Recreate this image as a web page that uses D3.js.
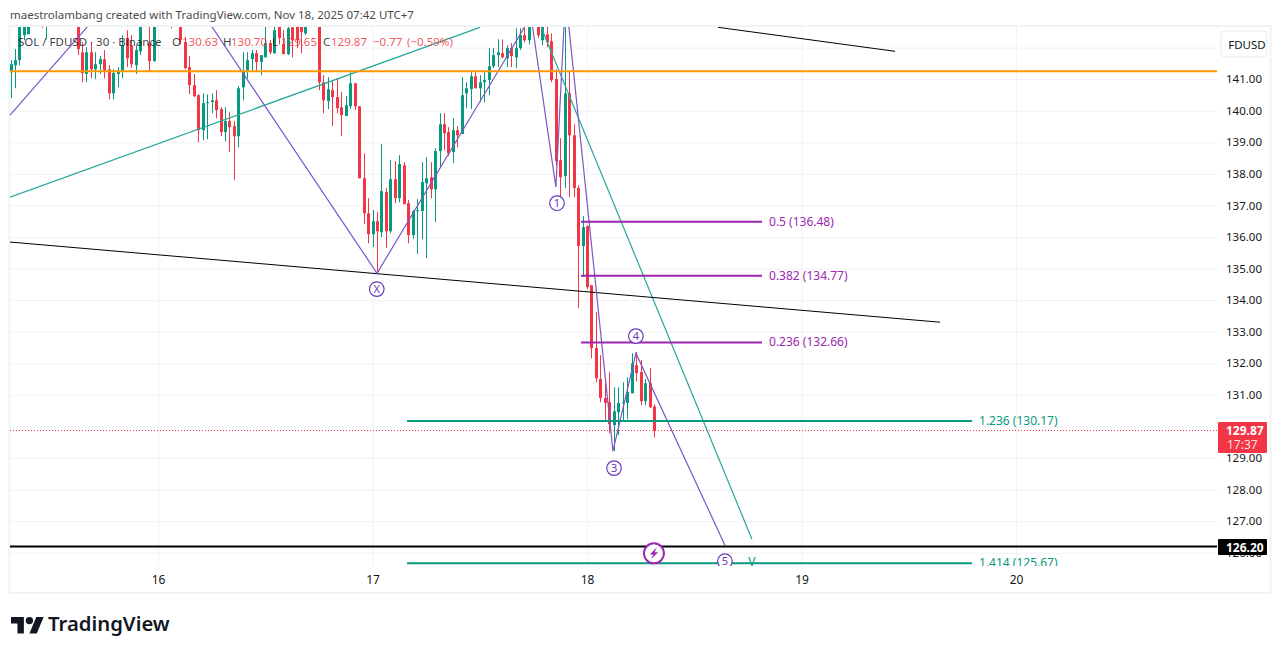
<!doctype html>
<html>
    <head>
        <meta charset="utf-8">
        <title>SOL / FDUSD</title>
        <script src="https://d3js.org/d3.v7.min.js"></script>
        <style>
            html, body { margin: 0; padding: 0; background: #fff; }
            svg { display: block; }
            text { font-family: "Noto Sans", sans-serif; }
        </style>
    </head>
    <body>
        <div id="chart"></div>
        <script>
            // 30 minute bars, first bar is 33 bars before day 16
            const opens = [141.22,141.44,141.60,142.39,142.42,143.2,143.3,143.2,142.95,143.2,143.3,143.5,143.3,143.4,143.1,143.0,141.85,141.16,141.85,141.31,141.47,141.63,141.31,140.55,141.16,141.25,142.30,142.07,141.44,141.88,143.0,142.14,141.57,143.0,143.2,143.4,142.95,143.2,143.0,142.17,141.38,140.81,140.49,139.38,140.24,140.27,140.33,140.05,139.32,139.67,139.51,139.19,140.74,141.28,141.63,141.82,141.54,141.69,142.14,141.82,142.7,142.11,141.79,142.64,142.8,142.8,142.45,142.9,143.0,142.9,140.90,140.30,140.65,140.43,140.11,139.83,140.14,140.87,140.14,137.86,136.75,136.09,136.50,136.15,137.42,136.18,137.83,137.23,138.27,137.07,136.06,136.82,136.82,137.70,137.89,137.51,138.72,139.57,139.32,138.69,139.38,139.26,140.55,140.68,141.09,140.71,140.90,140.97,141.41,141.76,141.82,141.66,141.98,141.69,141.98,142.39,142.23,142.9,143.0,142.23,142.42,142.20,141.00,138.43,137.93,140.55,139.22,137.55,135.71,136.34,134.47,132.48,131.50,130.90,130.77,130.04,130.45,130.74,130.74,131.05,131.94,131.72,130.80,131.37,130.63];
            const highs = [141.60,141.95,143.0,143.2,143.2,143.5,143.6,143.5,143.4,143.5,143.6,143.8,143.6,143.6,143.4,143.2,142.17,142.01,142.14,141.85,141.73,141.92,141.44,141.31,141.38,142.39,142.55,142.39,142.07,143.0,143.3,142.9,143.0,143.3,143.5,143.7,143.4,143.5,143.3,142.33,141.73,141.16,140.52,140.55,140.52,140.55,140.65,140.11,140.11,139.95,139.67,140.78,141.85,141.85,141.92,141.92,141.76,142.70,142.23,142.70,142.8,142.55,142.70,142.8,143.0,143.0,143.0,143.2,143.3,143.1,141.12,141.06,140.97,141.03,140.59,140.46,141.22,140.87,140.14,138.65,137.23,136.85,136.79,138.94,137.55,138.43,138.40,138.59,138.37,137.17,136.85,137.20,138.37,138.53,138.37,138.81,139.92,139.92,139.48,139.76,139.51,141.06,140.90,141.22,141.22,141.12,141.22,141.98,141.98,142.26,142.26,142.07,142.14,142.61,142.61,142.9,143.0,143.1,143.2,143.0,142.9,142.45,141.3,139.13,143.0,141.22,139.57,137.64,136.66,136.37,134.47,133.62,132.26,131.37,131.72,131.24,131.24,131.40,131.56,132.32,132.35,132.10,131.50,131.85,130.70];
            const lows = [140.40,140.71,141.44,142.23,142.42,143.0,143.1,142.62,142.26,142.9,143.0,143.2,143.1,143.0,142.8,141.76,140.90,140.90,141.03,141.00,141.16,141.03,140.36,140.36,140.74,141.03,141.38,141.35,141.16,141.76,142.8,141.22,141.54,142.8,143.0,143.1,142.61,142.9,142.10,141.31,140.52,140.43,139.00,139.07,139.10,139.92,139.76,139.19,139.03,138.69,137.80,138.84,140.33,141.03,141.28,141.28,141.12,141.69,141.79,141.80,142.1,141.79,141.76,141.69,141.98,141.82,142.40,142.7,142.8,140.65,139.92,140.05,139.51,139.92,139.19,139.83,140.05,140.02,137.86,136.41,135.80,135.68,134.82,136.00,135.65,136.12,137.07,137.10,137.04,135.80,135.93,135.46,135.93,135.33,137.23,136.47,138.21,138.75,138.56,138.34,138.84,139.26,140.08,140.05,140.71,140.27,140.27,140.49,141.35,141.38,141.66,141.38,141.38,141.35,141.92,142.17,142.10,142.7,142.3,142.07,142.01,140.90,138.27,137.26,137.55,137.26,137.26,133.75,134.73,134.35,132.16,131.40,130.77,130.14,129.79,129.22,129.72,130.20,130.23,131.05,131.43,130.67,130.67,130.58,129.65];
            const closes = [141.47,141.60,142.80,143.0,143.1,143.3,143.2,142.9,143.2,143.3,143.5,143.3,143.4,143.1,143.0,141.95,141.19,141.85,141.31,141.47,141.63,141.28,140.55,141.19,141.28,142.07,141.66,141.47,141.92,142.80,143.1,141.57,142.80,143.2,143.4,143.2,143.2,143.0,142.23,141.35,140.81,140.46,139.38,140.24,140.27,140.33,140.02,139.32,139.67,139.48,139.19,140.71,141.25,141.60,141.82,141.54,141.76,142.14,141.85,142.55,142.30,141.79,142.61,142.23,142.23,142.49,142.9,143.0,142.9,140.90,140.33,140.68,140.43,140.08,139.86,140.17,140.87,140.14,137.86,136.75,136.09,136.50,136.18,137.45,136.18,137.83,137.23,138.31,137.04,136.06,136.82,136.85,137.74,137.86,137.51,138.72,139.57,139.29,138.65,139.38,139.22,140.49,140.71,141.09,140.71,140.90,140.97,141.41,141.76,141.85,141.69,141.98,141.73,141.98,142.39,142.23,142.9,143.0,142.39,142.9,142.17,140.97,138.40,137.89,140.55,139.22,137.55,135.71,136.31,134.41,132.48,131.53,130.90,130.74,130.07,130.48,130.74,130.77,131.09,132.00,131.69,130.80,131.37,130.61,129.87];

            const priceTicks = [142,141,140,139,138,137,136,135,134,133,132,131,130,129,128,127,126];
            const dayTicks = [16,17,18,19,20];

            // drawings, [day, price]
            const wavePoints = [[15.31,139.86],[16.00,145.21],[17.021,134.85],[17.739,142.99],[17.855,137.58],[17.90,143.66],[18.121,129.22],[18.228,132.32],[18.643,126.24]];
            const waveLabels = [["1",17.86,137.07],["X",17.02,134.35],["3",18.126,128.68],["4",18.228,132.86],["5",18.643,125.73]];
            const trendTeal = [[[15.31,137.26],[17.501,142.64]],[[17.786,142.64],[18.769,126.43]]];
            const trendBlack = [[[15.31,135.84],[19.646,133.30]],[[18.611,142.64],[19.436,141.88]]];
            const fibPurple = [[0.5,136.48],[0.382,134.77],[0.236,132.66]];
            const fibTeal = [[1.236,130.17],[1.414,125.67]];
            const fibPurpleSpan = [17.972,18.816];
            const fibTealSpan = [17.161,19.795];
            const orangeLevel = 141.25;
            const blackLevel = 126.20;
            const lastPrice = 129.87;

            const w = 1281;
            const h = 654;
            const paneLeft = 10, paneRight = 1217, paneTop = 27, paneBottom = 566;

            const red = "#f23645", green = "#089981", purple = "#9c27b0", wave = "#7e57c2", grid = "#f0f2f5";

            const x = d3.scaleLinear().domain([16, 20]).range([158, 1016]);
            const y = d3.scaleLinear().domain([142.65, 125.58]).range([paneTop, paneBottom]);
            const barDay = (i) => 16 + (i - 33) / 48;

            const svg = d3.select("#chart").append("svg").attr("width", w).attr("height", h);

            svg.append("defs").append("clipPath").attr("id", "pane").append("rect")
                .attr("x", paneLeft).attr("y", paneTop)
                .attr("width", paneRight - paneLeft).attr("height", paneBottom - paneTop);

            // frame
            svg.append("rect").attr("x", 9.5).attr("y", 26).attr("width", 1261).attr("height", 567)
                .attr("fill", "none").attr("stroke", grid).attr("stroke-width", 2);

            // grid
            svg.append("g")
                .attr("transform", "translate(" + paneRight + ",0)")
                .call(d3.axisLeft(y).tickValues(priceTicks).tickSize(paneRight - paneLeft).tickFormat(""))
                .call((g) => g.select(".domain").remove())
                .selectAll("line").attr("stroke", grid);
            svg.append("g")
                .attr("transform", "translate(0," + paneBottom + ")")
                .call(d3.axisTop(x).tickValues(dayTicks).tickSize(paneBottom - paneTop).tickFormat(""))
                .call((g) => g.select(".domain").remove())
                .selectAll("line").attr("stroke", grid);

            // axis labels
            const yAxis = svg.append("g")
                .attr("transform", "translate(1262,0)")
                .call(d3.axisLeft(y).tickValues(priceTicks.filter((d) => d < 142)).tickSize(0).tickFormat(d3.format(".2f")));
            yAxis.select(".domain").remove();
            yAxis.selectAll("text").attr("x", 0).attr("font-size", 11.5).attr("font-family", "'Noto Sans', sans-serif").attr("fill", "#131722");

            const xAxis = svg.append("g")
                .attr("transform", "translate(0,566)")
                .call(d3.axisBottom(x).tickValues(dayTicks).tickSize(0).tickFormat((d) => d));
            xAxis.select(".domain").remove();
            xAxis.selectAll("text").attr("y", 9).attr("font-size", 12).attr("font-family", "'Noto Sans', sans-serif").attr("fill", "#131722");

            const pane = svg.append("g").attr("clip-path", "url(#pane)");

            // candles
            const candles = pane.selectAll("g.candle")
                .data(opens)
                .enter()
                .append("g")
                .attr("class", "candle");
            const barColor = (i) => closes[i] >= opens[i] ? green : red;
            candles.append("line")
                .attr("x1", (d, i) => Math.round(x(barDay(i))) + 0.5)
                .attr("x2", (d, i) => Math.round(x(barDay(i))) + 0.5)
                .attr("y1", (d, i) => y(highs[i]))
                .attr("y2", (d, i) => y(lows[i]))
                .attr("stroke", (d, i) => barColor(i));
            candles.append("rect")
                .attr("x", (d, i) => Math.round(x(barDay(i))) - 1)
                .attr("width", 3)
                .attr("y", (d, i) => y(Math.max(opens[i], closes[i])))
                .attr("height", (d, i) => Math.max(1, Math.abs(y(opens[i]) - y(closes[i]))))
                .attr("fill", (d, i) => barColor(i));

            // last price dotted line
            pane.append("line")
                .attr("x1", paneLeft).attr("x2", paneRight)
                .attr("y1", y(lastPrice)).attr("y2", y(lastPrice))
                .attr("stroke", red).attr("stroke-dasharray", "1 2");

            const line = d3.line().x((d) => x(d[0])).y((d) => y(d[1]));

            pane.selectAll("path.teal").data(trendTeal).enter().append("path")
                .attr("class", "teal").attr("d", line).attr("fill", "none")
                .attr("stroke", "#26a69a").attr("stroke-width", 1.2);
            pane.selectAll("path.black").data(trendBlack).enter().append("path")
                .attr("class", "black").attr("d", line).attr("fill", "none")
                .attr("stroke", "#000").attr("stroke-width", 1);
            pane.append("path").datum(wavePoints).attr("d", line).attr("fill", "none")
                .attr("stroke", wave).attr("stroke-width", 1.2);

            // horizontal levels
            [[orangeLevel, "#ff9800"], [blackLevel, "#000"]].forEach((l) => {
                pane.append("line")
                    .attr("x1", paneLeft).attr("x2", paneRight)
                    .attr("y1", y(l[0])).attr("y2", y(l[0]))
                    .attr("stroke", l[1]).attr("stroke-width", 2);
            });

            // fib levels
            const drawFib = (rows, span, color) => {
                pane.selectAll(null).data(rows).enter().append("line")
                    .attr("x1", x(span[0])).attr("x2", x(span[1]))
                    .attr("y1", (d) => y(d[1])).attr("y2", (d) => y(d[1]))
                    .attr("stroke", color).attr("stroke-width", 2);
                pane.selectAll(null).data(rows).enter().append("text")
                    .attr("x", x(span[1]) + 7)
                    .attr("y", (d) => y(d[1]) + 4)
                    .attr("font-size", 12)
                    .attr("fill", color)
                    .text((d) => d[0] + " (" + d[1].toFixed(2) + ")");
            };
            drawFib(fibPurple, fibPurpleSpan, purple);
            drawFib(fibTeal, fibTealSpan, green);

            // wave labels
            const labels = pane.selectAll("g.wave").data(waveLabels).enter().append("g")
                .attr("class", "wave")
                .attr("transform", (d) => "translate(" + x(d[1]) + "," + y(d[2]) + ")");
            labels.append("circle").attr("r", 7.3).attr("fill", "#fff").attr("stroke", "#673ab7").attr("stroke-width", 1.2);
            labels.append("text").attr("text-anchor", "middle").attr("y", 4).attr("font-size", 11)
                .attr("fill", "#673ab7").text((d) => d[0]);

            pane.append("text").attr("x", x(18.769)).attr("y", y(125.58)).attr("text-anchor", "middle")
                .attr("font-size", 12).attr("fill", green).text("V");

            // lightning badge
            const badge = pane.append("g").attr("transform", "translate(" + x(18.312) + "," + y(125.98) + ")");
            badge.append("circle").attr("r", 10).attr("fill", "#fff").attr("stroke", purple).attr("stroke-width", 2);
            badge.append("path").attr("transform", "scale(1.2)").attr("d", "M2.5 -5 L-3.5 1 L-0.5 1 L-2.5 5 L3.5 -1 L0.5 -1 Z").attr("fill", purple);

            // price tags
            svg.append("rect").attr("x", 1218).attr("y", 422).attr("width", 49).attr("height", 31).attr("rx", 1).attr("fill", red);
            svg.append("text").attr("x", 1226).attr("y", 435).attr("font-size", 12).attr("font-weight", 700).attr("fill", "#fff").text(lastPrice.toFixed(2));
            svg.append("text").attr("x", 1227).attr("y", 449).attr("font-size", 12).attr("fill", "#fff").attr("fill-opacity", 0.85).text("17:37");
            svg.append("rect").attr("x", 1218).attr("y", 539).attr("width", 49).attr("height", 16).attr("rx", 1).attr("fill", "#000");
            svg.append("text").attr("x", 1226).attr("y", 552).attr("font-size", 12).attr("font-weight", 700).attr("fill", "#fff").text(blackLevel.toFixed(2));

            // currency button
            svg.append("rect").attr("x", 1221).attr("y", 31).attr("width", 46).attr("height", 26).attr("rx", 4)
                .attr("fill", "#fff").attr("stroke", "#e8eaee");
            svg.append("text").attr("x", 1247).attr("y", 49).attr("text-anchor", "middle").attr("font-size", 11.5).attr("fill", "#131722").text("FDUSD");

            // header and legend
            svg.append("text").attr("x", 10).attr("y", 19).attr("font-size", 11.5).attr("fill", "#4a4a4a")
                .text("maestrolambang created with TradingView.com, Nov 18, 2025 07:42 UTC+7");

            const legend = [
                ["SOL / FDUSD · 30 · Binance", 18, "#131722"],
                ["O", 172, "#131722"], ["130.63", 182, red],
                ["H", 223, "#131722"], ["130.70", 231, red],
                ["L", 272, "#131722"], ["129.65", 281, red],
                ["C", 323, "#131722"], ["129.87", 331, red],
                ["−0.77", 373, red], ["(−0.59%)", 407, red]
            ];
            svg.selectAll("text.legend").data(legend).enter().append("text")
                .attr("class", "legend")
                .attr("x", (d) => d[1]).attr("y", 46).attr("font-size", 11.5)
                .attr("fill", (d) => d[2]).attr("fill-opacity", 0.85)
                .text((d) => d[0]);

            // logo
            const logo = svg.append("g").attr("transform", "translate(11,610.5) scale(0.92)").attr("fill", "#131722");
            logo.append("path").attr("d", "M14 25H7V14H0V7h14v18zM28 25h-8l7.5-18h8L28 25z");
            logo.append("circle").attr("cx", 20).attr("cy", 11).attr("r", 4);
            svg.append("text").attr("x", 48).attr("y", 631).attr("font-size", 20.3).attr("font-weight", 600)
                .attr("font-family", "Inter, sans-serif").attr("fill", "#131722").text("TradingView");
        </script>
    </body>
</html>
